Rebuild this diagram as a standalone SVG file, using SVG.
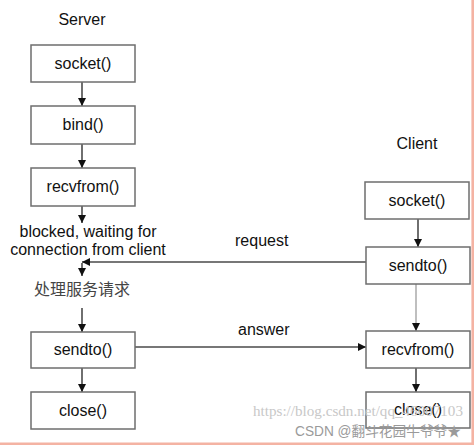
<svg xmlns="http://www.w3.org/2000/svg" width="474" height="445" viewBox="0 0 474 445">
<style>
.box{fill:#fff;stroke:#6e6e6e;stroke-width:1.5}
.lbl{font-family:"Liberation Sans",Arial,sans-serif;font-size:16px;fill:#111;text-anchor:middle}
.free{font-family:"Liberation Sans",Arial,sans-serif;font-size:16px;fill:#111}
.ln{stroke:#222;stroke-width:1.3;fill:none;marker-end:url(#ah)}
.gl{stroke:#777;stroke-width:1.8;fill:none;marker-end:url(#ah)}
.lg{stroke:#aaa;stroke-width:1.5;fill:none;marker-end:url(#ah)}
</style>
<defs>
<marker id="ah" markerUnits="userSpaceOnUse" markerWidth="9" markerHeight="9" refX="8" refY="4" orient="auto">
<path d="M0,0 L8,4 L0,8 z" fill="#111"/>
</marker>
</defs>
<rect width="474" height="445" fill="#fff"/>
<text class="lbl" x="82" y="25">Server</text>
<text class="lbl" x="417" y="149">Client</text>

<g id="connectors">
<line class="ln" x1="82" y1="82" x2="82" y2="106"/>
<line class="ln" x1="82" y1="144" x2="82" y2="168"/>
<line class="ln" x1="82" y1="206" x2="82" y2="223"/>
<line class="ln" x1="82" y1="263" x2="82" y2="276"/>
<line class="ln" x1="82" y1="308" x2="82" y2="332"/>
<line class="ln" x1="82" y1="368" x2="82" y2="392"/>
<line class="ln" x1="418" y1="219" x2="418" y2="247"/>
<line class="lg" x1="416" y1="284" x2="416" y2="331"/>
<line class="ln" x1="416" y1="368" x2="416" y2="392"/>
<line class="gl" x1="366" y1="262" x2="82" y2="262"/>
<line class="gl" x1="135" y1="347" x2="366" y2="347"/>
<text class="free" x="235" y="246">request</text>
<text class="free" x="238" y="335">answer</text>
</g>

<g id="s_socket"><rect class="box" x="31" y="45" width="104" height="37"/><text class="lbl" x="83" y="69">socket()</text></g>
<g id="s_bind"><rect class="box" x="31" y="106" width="104" height="38"/><text class="lbl" x="83" y="130">bind()</text></g>
<g id="s_recvfrom"><rect class="box" x="31" y="168" width="104" height="38"/><text class="lbl" x="83" y="192">recvfrom()</text></g>
<g id="s_blocked"><text class="lbl" x="88" y="237">blocked, waiting for</text><text class="lbl" x="88" y="255">connection from client</text></g>
<g id="s_process"><text x="82" y="295" text-anchor="middle" font-family="'Noto Sans CJK SC',sans-serif" font-size="16" fill="#444">处理服务请求</text></g>
<g id="s_sendto"><rect class="box" x="31" y="332" width="104" height="36"/><text class="lbl" x="83" y="355">sendto()</text></g>
<g id="s_close"><rect class="box" x="31" y="392" width="104" height="37"/><text class="lbl" x="83" y="416">close()</text></g>

<g id="c_socket"><rect class="box" x="365" y="182" width="104" height="37"/><text class="lbl" x="417" y="206">socket()</text></g>
<g id="c_sendto"><rect class="box" x="366" y="247" width="104" height="37"/><text class="lbl" x="418" y="271">sendto()</text></g>
<g id="c_recvfrom"><rect class="box" x="366" y="331" width="104" height="37"/><text class="lbl" x="418" y="355">recvfrom()</text></g>
<g id="c_close"><rect class="box" x="366" y="392" width="104" height="36"/><text class="lbl" x="418" y="415">close()</text></g>

<g id="watermark">
<text x="253" y="416" font-family="'Liberation Serif',serif" font-size="14" fill="#c8c8c8" textLength="210" lengthAdjust="spacingAndGlyphs">https://blog.csdn.net/qq_46007103</text>
<text x="295" y="436" font-family="'Liberation Sans','Noto Sans CJK SC',sans-serif" font-size="14" fill="#9a9a9a" textLength="166" lengthAdjust="spacingAndGlyphs">CSDN @翻斗花园牛爷爷★</text>
</g>
<line x1="472.7" y1="0" x2="472.7" y2="445" stroke="#f4b3a3" stroke-width="2.6"/>
<line x1="0" y1="443.7" x2="474" y2="443.7" stroke="#f4b3a3" stroke-width="2.6"/>
</svg>
